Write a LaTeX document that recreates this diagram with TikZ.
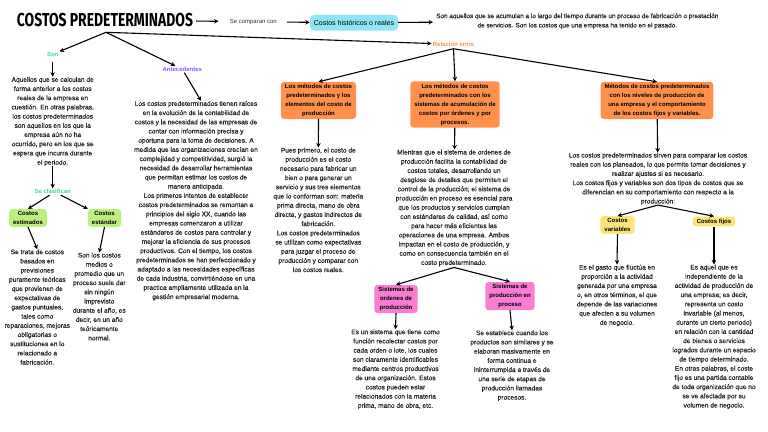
\documentclass[tikz,border=0pt]{standalone}
\usepackage{fontspec}
\setmainfont{Liberation Sans}
\newfontfamily\titlefont{Fira Sans}
\newfontfamily\bodyfont{Liberation Sans}[FakeBold=0.6]
\usetikzlibrary{arrows.meta, positioning}

\definecolor{boxcyan}{HTML}{8EE5F5}
\definecolor{boxorange}{HTML}{FF914D}
\definecolor{boxpink}{HTML}{F87DD3}
\definecolor{boxgreen}{HTML}{BCEF7E}
\definecolor{boxyellow}{HTML}{FAE57C}
\definecolor{labgreen}{HTML}{3FD98A}
\definecolor{labpurple}{HTML}{8C52FF}
\definecolor{laborange}{HTML}{FF914D}

\begin{document}
\begin{tikzpicture}[
  x=1pt, y=-1pt,
  txt/.style={align=center, inner sep=0pt, anchor=north, text=black!85,
              font=\bodyfont\fontsize{6.6}{9.2}\selectfont},
  tag/.style={inner sep=1pt, font=\fontsize{6}{7}\selectfont\bfseries},
  hbox/.style={rectangle, rounded corners=3pt, align=center, inner xsep=4pt,
               inner ysep=2.2pt, font=\fontsize{6}{9}\selectfont\bfseries},
  arr/.style={-{Stealth[length=4.5pt, width=4.5pt]}, line width=1.1pt}
]
\useasboundingbox (0,0) rectangle (768,431);

\node[inner sep=0pt] (title) at (105,20)
  {\resizebox{176pt}{13.3pt}{\titlefont\bfseries COSTOS PREDETERMINADOS}};
\node[inner sep=1pt, text=black!80, font=\fontsize{6}{7}\selectfont] (comp) at (253.3,21.7) {Se comparan con};
\node[rectangle, rounded corners=4pt, fill=boxcyan, minimum width=88pt, minimum height=15.7pt,
      inner sep=1pt, font=\fontsize{7}{8}\selectfont] (hist) at (354,22.8) {Costos históricos o reales};
\node[txt, font=\bodyfont\fontsize{6.4}{9.3}\selectfont] (def) at (577.3,13.2)
  {Son aquellos que se acumulan a lo largo del tiempo durante un proceso de fabricación o prestación\\
   de servicios. Son los costos que una empresa ha tenido en el pasado.};

\draw[arr, shorten <=3pt, shorten >=10pt] (title) -- (comp);
\draw[arr, shorten <=9pt] (comp) -- (hist);
\draw[arr, shorten >=3pt] (hist) -- (def);

% branches under the title
\coordinate (tapex) at (106,32.3);
\node[tag, text=labgreen] (son) at (52.7,54.3) {Son};
\node[tag, text=labpurple] (ant) at (182.3,69.3) {Antecedentes};
\node[tag, text=laborange] (rel) at (453.5,44.3) {Relación entre};
\draw[arr] (tapex) -- (son);
\draw[arr] (tapex) -- (ant);
\draw[arr] (tapex) -- (rel);

\node[txt] (aq) at (52.7,76.8) {Aquellos que se calculan de\\forma anterior a los costos\\reales de la empresa en\\cuestión. En otras palabras,\\los costos predeterminados\\son aquellos en los que la\\empresa aún no ha\\ocurrido, pero en los que se\\espera que incurra durante\\el periodo.};
\draw[arr, shorten <=4pt] (son) -- (aq);
\node[tag, text=labgreen] (clas) at (52.7,191.7) {Se clasifican};
\draw[arr] (aq) -- (clas);

\node[hbox, fill=boxgreen] (est) at (28,218) {Costos\\estimados};
\node[hbox, fill=boxgreen] (std) at (104.5,218) {Costos\\estándar};
\draw[arr] ([xshift=-3pt]clas.south) -- (est.north);
\draw[arr] ([xshift=8pt]clas.south) -- (std.north west);

\node[txt] (esttxt) at (37.3,249.2) {Se trata de costos\\basados en\\previsiones\\puramente teóricas\\que provienen de\\expectativas de\\gastos puntuales,\\tales como\\reparaciones, mejoras\\obligatorias o\\sustituciones en lo\\relacionado a\\fabricación.};
\node[txt] (stdtxt) at (99.3,252.5) {Son los costos\\medios o\\promedio que un\\proceso suele dar\\sin ningún\\imprevisto\\durante el año, es\\decir, en un año\\teóricamente\\normal.};
\draw[arr] (est.south) -- (esttxt.north);
\draw[arr] (std.south) -- (stdtxt.north);

\node[txt] (anttxt) at (196,100.8) {Los costos predeterminados tienen raíces\\en la evolución de la contabilidad de\\costos y la necesidad de las empresas de\\contar con información precisa y\\oportuna para la toma de decisiones. A\\medida que las organizaciones crecían en\\complejidad y competitividad, surgió la\\necesidad de desarrollar herramientas\\que permitan estimar los costos de\\manera anticipada.\\Los primeros intentos de establecer\\costos predeterminados se remontan a\\principios del siglo XX, cuando las\\empresas comenzaron a utilizar\\estándares de costos para controlar y\\mejorar la eficiencia de sus procesos\\productivos. Con el tiempo, los costos\\predeterminados se han perfeccionado y\\adaptado a las necesidades específicas\\de cada industria, convirtiéndose en una\\practica ampliamente utilizada en la\\gestión empresarial moderna.};
\draw[arr] (ant) -- ([xshift=5pt]anttxt.north);

% relacion entre
\coordinate (rapex) at ([yshift=-1pt]rel.south);
\node[hbox, fill=boxorange] (m1) at (318.5,100.5) {Los métodos de costos\\predeterminados y los\\elementos del costo de\\producción};
\node[hbox, fill=boxorange] (m2) at (455,104.5) {Los métodos de costos\\predeterminados con los\\sistemas de acumulación de\\costos por órdenes y por\\procesos.};
\node[hbox, fill=boxorange] (m3) at (657,100.5) {Métodos de costos predeterminados\\con los niveles de producción de\\una empresa y el comportamiento\\de los costos fijos y variables.};
\draw[arr] (rapex) -- (m1.north);
\draw[arr] (rapex) -- (m2.north);
\draw[arr] (rapex) -- (m3.north);

\node[txt] (m1txt) at (318.3,147.5) {Pues primero, el costo de\\producción es el costo\\necesario para fabricar un\\bien o para generar un\\servicio y sus tres elementos\\que lo conforman son: materia\\prima directa, mano de obra\\directa, y gastos indirectos de\\fabricación.\\Los costos predeterminados\\se utilizan como expectativas\\para juzgar el proceso de\\producción y comparar con\\los costos reales.};
\draw[arr] (m1) -- (m1txt);

\node[txt] (m2txt) at (454,149.5) {Mientras que el sistema de ordenes de\\producción facilita la contabilidad de\\costos totales, desarrollando un\\desglose de detalles que permiten el\\control de la producción; el sistema de\\producción en proceso es esencial para\\que los productos y servicios cumplan\\con estándares de calidad, así como\\para hacer más eficientes las\\operaciones de una empresa. Ambos\\impactan en el costo de producción, y\\como en consecuencia también en el\\costo predeterminado.};
\draw[arr] (m2) -- (m2txt);

\coordinate (papex) at ([yshift=-1pt]m2txt.south);
\node[hbox, fill=boxpink] (p1) at (396,299) {Sistemas de\\ordenes de\\producción};
\node[hbox, fill=boxpink] (p2) at (510,296) {Sistemas de\\producción en\\proceso};
\draw[arr] (papex) -- (p1.north);
\draw[arr] (papex) -- (p2.north);

\node[txt] (p1txt) at (395.5,329.2) {Es un sistema que tiene como\\función recolectar costos por\\cada orden o lote, los cuales\\son claramente identificables\\mediante centros productivos\\de una organización. Estos\\costos pueden estar\\relacionados con la materia\\prima, mano de obra, etc.};
\node[txt] (p2txt) at (512,330.2) {Se establece cuando los\\productos son similares y se\\elaboran masivamente en\\forma continua e\\ininterrumpida a través de\\una serie de etapas de\\producción llamadas\\procesos.};
\draw[arr] (p1.south) -- (p1txt.north);
\draw[arr] (p2.south) -- (p2txt.north);

\node[txt] (m3txt) at (658,152.5) {Los costos predeterminados sirven para comparar los costos\\reales con los planeados, lo que permite tomar decisiones y\\realizar ajustes si es necesario.\\Los costos fijos y variables son dos tipos de costos que se\\diferencian en su comportamiento con respecto a la\\producción:};
\draw[arr] (m3) -- (m3txt);

% fijos y variables
\coordinate (fapex) at (m3txt.south);
\node[hbox, fill=boxyellow] (var) at (617.5,225) {Costos\\variables};
\node[hbox, fill=boxyellow] (fij) at (714,221.5) {Costos fijos};
\draw[arr] (fapex) -- (var.north);
\draw[arr] (fapex) -- (fij.north);

\node[txt] (vartxt) at (617,264.5) {Es el gasto que fluctúa en\\proporción a la actividad\\generada por una empresa\\o, en otros términos, el que\\depende de las variaciones\\que afecten a su volumen\\de negocio.};
\node[txt] (fijtxt) at (714,264.5) {Es aquel que es\\independiente de la\\actividad de producción de\\una empresa; es decir,\\representa un costo\\invariable (al menos,\\durante un cierto periodo)\\en relación con la cantidad\\de bienes o servicios\\logrados durante un espacio\\de tiempo determinado.\\En otras palabras, el coste\\fijo es una partida contable\\de toda organización que no\\se ve afectada por su\\volumen de negocio.};
\draw[arr] (var.south) -- (vartxt.north);
\draw[arr] (fij.south) -- (fijtxt.north);

\end{tikzpicture}
\end{document}
